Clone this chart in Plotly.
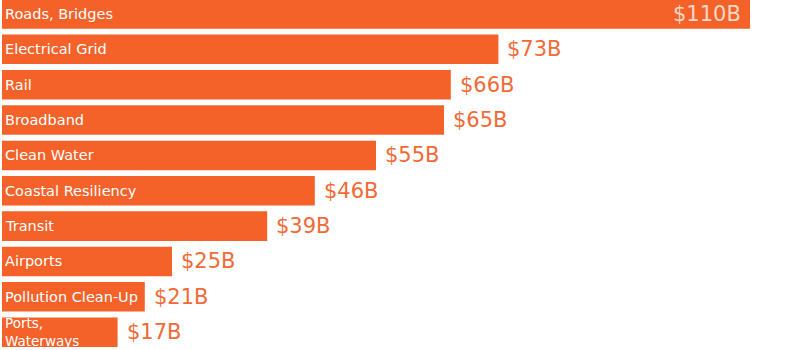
import plotly.graph_objects as go

categories = ["Roads, Bridges", "Electrical Grid", "Rail", "Broadband", "Clean Water",
              "Coastal Resiliency", "Transit", "Airports", "Pollution Clean-Up", "Ports,<br>Waterways"]
values = [110, 73, 66, 65, 55, 46, 39, 25, 21, 17]
value_labels = ["$110B", "$73B", "$66B", "$65B", "$55B", "$46B", "$39B", "$25B", "$21B", "$17B"]

ORANGE = "#F4622A"
ypos = list(range(len(categories)))

fig = go.Figure(go.Bar(
    x=values, y=ypos, orientation="h", width=0.835,
    marker=dict(color=ORANGE, line=dict(width=0)), hoverinfo="skip",
))

annotations = []
for i, (c, v, lab) in enumerate(zip(categories, values, value_labels)):
    multi = "<br>" in c
    annotations.append(dict(
        x=0, y=i, xref="x", yref="y", text=c, showarrow=False,
        xanchor="left", yanchor="middle", xshift=1, yshift=0,
        align="left",
        font=dict(family="DejaVu Sans", size=13.5 if multi else 14.5, color="#FFFFFF"),
    ))
    inside = v == max(values)
    annotations.append(dict(
        x=v, y=i, xref="x", yref="y", text=lab, showarrow=False,
        xanchor="right" if inside else "left", yanchor="middle",
        xshift=-7 if inside else 7,
        font=dict(family="DejaVu Sans", size=21,
                  color="#FCD9C6" if inside else "#F26A35"),
    ))

fig.update_layout(
    width=800, height=350,
    margin=dict(l=2, r=0, t=0, b=0),
    paper_bgcolor="white", plot_bgcolor="white",
    showlegend=False,
    xaxis=dict(range=[0, 117.35], visible=False, fixedrange=True),
    yaxis=dict(range=[9.504, -0.396], visible=False, fixedrange=True),
    annotations=annotations,
)

fig.write_html("out.html", config={"displayModeBar": False})
